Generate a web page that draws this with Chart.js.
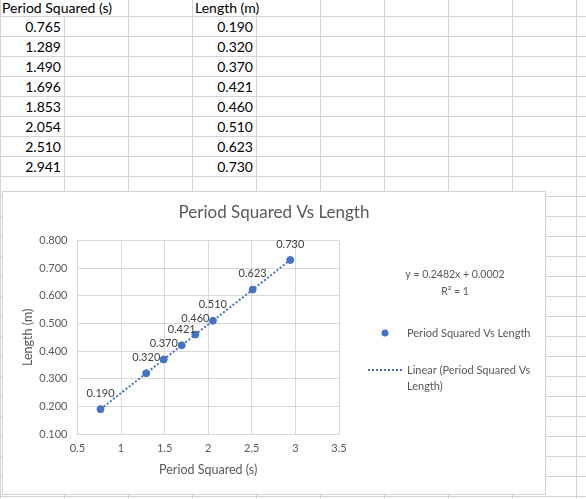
<!DOCTYPE html>
<html>
<head>
<meta charset="utf-8">
<script src="https://cdn.jsdelivr.net/npm/chart.js@4.4.0/dist/chart.umd.min.js"></script>
<style>
html{background:#fff;}
body{margin:0;width:586px;height:499px;overflow:hidden;position:relative;background-color:#fff;
	background-image:linear-gradient(to right,#d4d4d4 1px,transparent 1px),linear-gradient(to bottom,#d4d4d4 1px,transparent 1px);
	background-size:64px 20px;background-position:0 16px;font-family:Lato,sans-serif;}
.cell{position:absolute;height:19px;line-height:19px;font-size:14px;color:#000;white-space:nowrap;}
.num{text-align:right;width:61px;}
.head{background:#fff;height:16px;line-height:15px;}
#box{position:absolute;left:2px;top:191px;width:544px;height:304px;box-sizing:border-box;border:1px solid #d0d0d0;background:#fff;}
#chart{display:block;}
</style>
</head>
<body>
<div id="sheet"></div>
<div id="box"><canvas id="chart" width="542" height="302"></canvas></div>
<script>
// sheet + chart data
const headers = ["Period Squared (s)", "Length (m)"];
const periodSquared = [0.765, 1.289, 1.490, 1.696, 1.853, 2.054, 2.510, 2.941];
const lengthM = [0.190, 0.320, 0.370, 0.421, 0.460, 0.510, 0.623, 0.730];
const trendX = [0.765, 2.941];
const trendY = [0.190, 0.730];
const equationLines = ["y = 0.2482x + 0.0002", "R\u00b2 = 1"];
const chartTitle = "Period Squared Vs Length";
const seriesLabel = "Period Squared Vs Length";
const trendLabel = "Linear (Period Squared Vs Length)";

const textCol = "#595959";
const blue = "#4472C4";
const gridCol = "#d9d9d9";
const fnt = "Lato";

// spreadsheet cells
let html = "";
html += "<div class='cell head' style='left:1px;top:0;width:126px;padding-left:1px'>" + headers[0] + "</div>";
html += "<div class='cell head' style='left:193px;top:0;width:124px;padding-left:2px'>" + headers[1] + "</div>";
for (let i = 0; i < periodSquared.length; i++) {
	let top = 17 + i * 20;
	html += "<div class='cell num' style='left:0;top:" + top + "px'>" + periodSquared[i].toFixed(3) + "</div>";
	html += "<div class='cell num' style='left:192px;top:" + top + "px'>" + lengthM[i].toFixed(3) + "</div>";
}
document.getElementById("sheet").innerHTML = html;

// value labels above the markers
const pointLabels = {
	id: 'pointLabels',
	afterDatasetsDraw(chart) {
		const ctx = chart.ctx;
		const meta = chart.getDatasetMeta(0);
		ctx.save();
		ctx.font = "11px " + fnt;
		ctx.fillStyle = "#404040";
		ctx.textAlign = "center";
		ctx.textBaseline = "middle";
		meta.data.forEach((pt, i) => {
			ctx.fillText(lengthM[i].toFixed(3), pt.x, pt.y - 16);
		});
		ctx.restore();
	}
};

function wrapText(ctx, text, maxW) {
	let words = text.split(" ");
	let lines = [];
	let line = "";
	for (const w of words) {
		let test = line ? line + " " + w : w;
		if (ctx.measureText(test).width > maxW && line) {
			lines.push(line);
			line = w;
		} else {
			line = test;
		}
	}
	lines.push(line);
	return lines;
}

// title, trendline equation + legend
const sideNotes = {
	id: 'sideNotes',
	afterDraw(chart) {
		const ctx = chart.ctx;
		ctx.save();
		ctx.textBaseline = "middle";
		ctx.textAlign = "center";
		ctx.fillStyle = textCol;
		ctx.font = "17px " + fnt;
		ctx.fillText(chartTitle, chart.width / 2, 21);

		ctx.font = "10.5px " + fnt;
		ctx.fillText(equationLines[0], 452, 83);
		ctx.fillText(equationLines[1], 452, 100);

		ctx.font = "11px " + fnt;
		ctx.textAlign = "left";
		// marker item
		ctx.beginPath();
		ctx.fillStyle = blue;
		ctx.arc(382, 141, 3.5, 0, Math.PI * 2);
		ctx.fill();
		ctx.fillStyle = textCol;
		ctx.fillText(chart.data.datasets[0].label, 404, 141);
		// trendline item
		ctx.beginPath();
		ctx.strokeStyle = blue;
		ctx.lineWidth = 2;
		ctx.setLineDash([2, 2]);
		ctx.moveTo(365, 178);
		ctx.lineTo(401, 178);
		ctx.stroke();
		ctx.setLineDash([]);
		let lines = wrapText(ctx, chart.data.datasets[1].label, 136);
		lines.forEach((l, i) => ctx.fillText(l, 404, 178 + i * 16));
		ctx.restore();
	}
};

new Chart(document.getElementById("chart"), {
	type: 'scatter',
	data: {
		datasets: [
			{label: seriesLabel, data: periodSquared.map((x, i) => ({x: x, y: lengthM[i]})),
				backgroundColor: blue, borderColor: blue, pointRadius: 3.5, pointHoverRadius: 3.5, order: 1},
			{label: trendLabel, data: trendX.map((x, i) => ({x: x, y: trendY[i]})), showLine: true,
				borderColor: blue, borderWidth: 2, borderDash: [2, 2], pointRadius: 0, pointHoverRadius: 0, order: 2}
		]
	},
	options: {
		responsive: false,
		animation: false,
		devicePixelRatio: 1,
		layout: {padding: {left: 0, top: 48.7, right: 206, bottom: 0}},
		plugins: {
			legend: {display: false},
			tooltip: {enabled: false},
			title: {display: false}
		},
		scales: {
			x: {type: 'linear', min: 0.5, max: 3.5,
				ticks: {stepSize: 0.5, color: textCol, font: {family: fnt, size: 11}, padding: 8, callback: v => String(+v.toFixed(1))},
				grid: {color: gridCol, drawTicks: false}, border: {color: gridCol},
				title: {display: true, text: 'Period Squared (s)', color: textCol, font: {family: fnt, size: 12.5}, padding: {top: 0, bottom: 16.5}},
				afterFit: s => { s.height = 60; }
			},
			y: {type: 'linear', min: 0.1, max: 0.8,
				ticks: {stepSize: 0.1, color: textCol, font: {family: fnt, size: 11}, padding: 10, callback: v => v.toFixed(3)},
				grid: {color: gridCol, drawTicks: false}, border: {color: gridCol},
				title: {display: true, text: 'Length (m)', color: textCol, font: {family: fnt, size: 12.5}, padding: {top: 17.5, bottom: 0}},
				afterFit: s => { s.width = 74.4; }
			}
		}
	},
	plugins: [pointLabels, sideNotes]
});
</script>
</body>
</html>
